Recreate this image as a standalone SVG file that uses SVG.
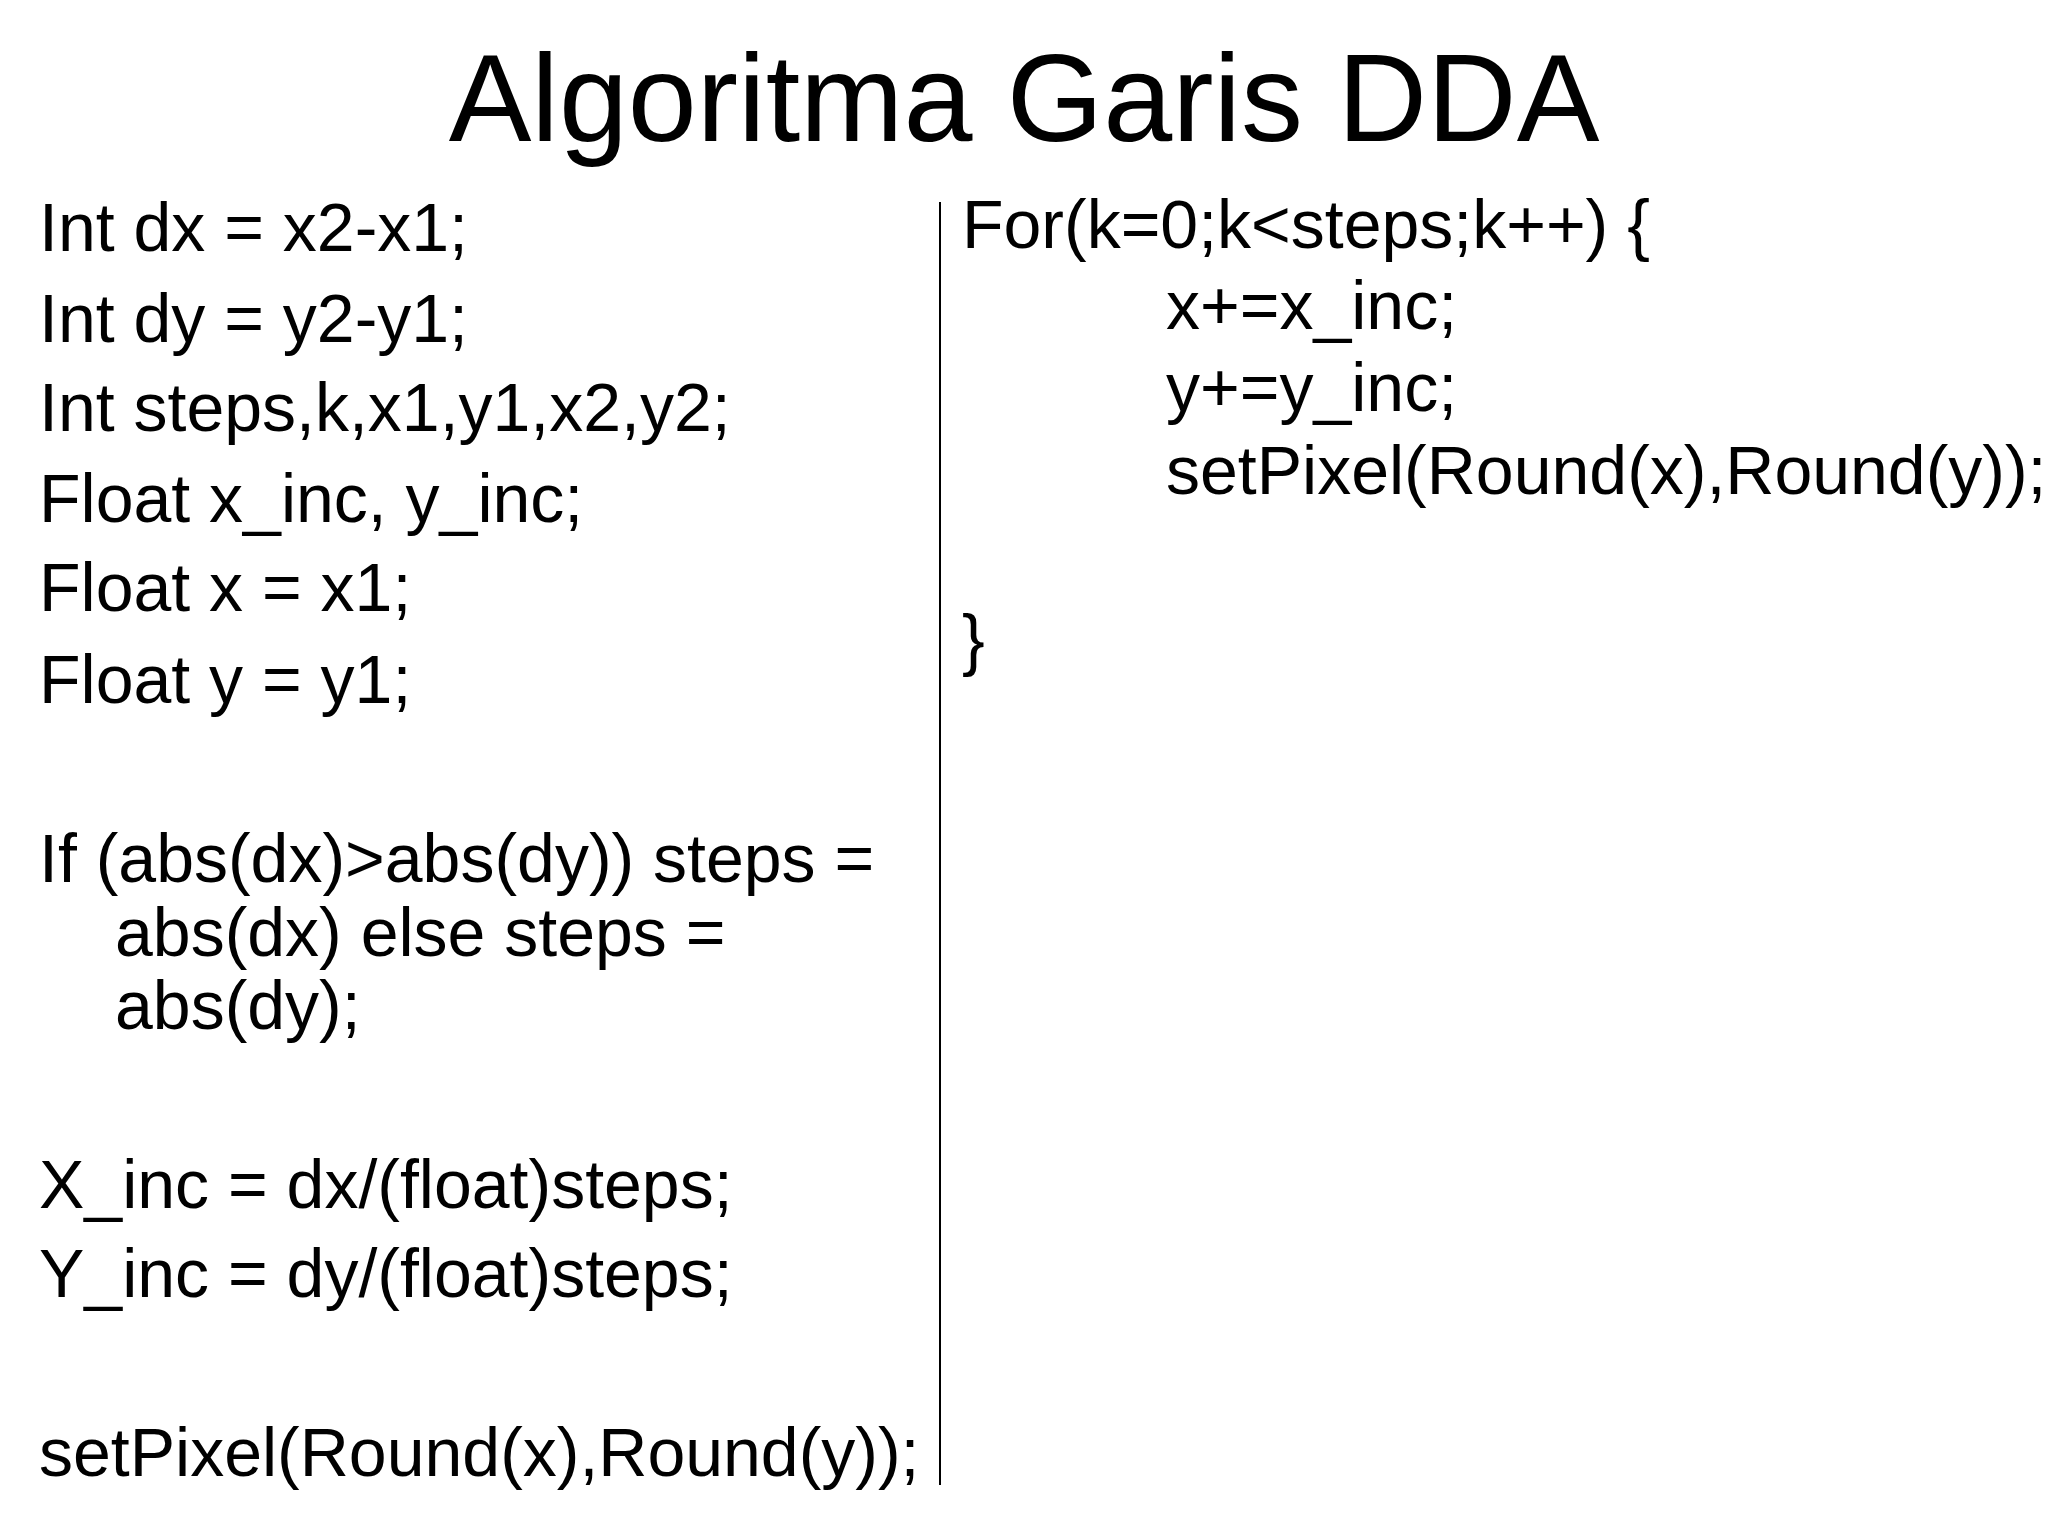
<svg xmlns="http://www.w3.org/2000/svg" width="2048" height="1536" viewBox="0 0 2048 1536">
<style>
text{font-family:"Liberation Sans",Arial,sans-serif;fill:#000}
.c{font-size:68px}
.t{font-size:124px}
</style>
<rect width="2048" height="1536" fill="#fff"/>
<g id="title"><text class="t" x="1024" y="141" text-anchor="middle">Algoritma Garis DDA</text></g>
<g id="left">
<text class="c" x="39" y="251">Int dx = x2-x1;</text>
<text class="c" x="39" y="342">Int dy = y2-y1;</text>
<text class="c" x="39" y="431">Int steps,k,x1,y1,x2,y2;</text>
<text class="c" x="39" y="522">Float x_inc, y_inc;</text>
<text class="c" x="39" y="611">Float x = x1;</text>
<text class="c" x="39" y="703">Float y = y1;</text>
<text class="c" x="39" y="882">If (abs(dx)&gt;abs(dy)) steps =</text>
<text class="c" x="115" y="956">abs(dx) else steps =</text>
<text class="c" x="115" y="1029">abs(dy);</text>
<text class="c" x="39" y="1208">X_inc = dx/(float)steps;</text>
<text class="c" x="39" y="1297">Y_inc = dy/(float)steps;</text>
<text class="c" x="39" y="1476">setPixel(Round(x),Round(y));</text>
</g>
<g id="divider"><line x1="940" y1="202" x2="940" y2="1485" stroke="#000" stroke-width="2"/></g>
<g id="right">
<text class="c" x="962" y="248">For(k=0;k&lt;steps;k++) {</text>
<text class="c" x="1166" y="329">x+=x_inc;</text>
<text class="c" x="1166" y="411">y+=y_inc;</text>
<text class="c" x="1166" y="494">setPixel(Round(x),Round(y));</text>
<text class="c" x="962" y="663">}</text>
</g>
</svg>
